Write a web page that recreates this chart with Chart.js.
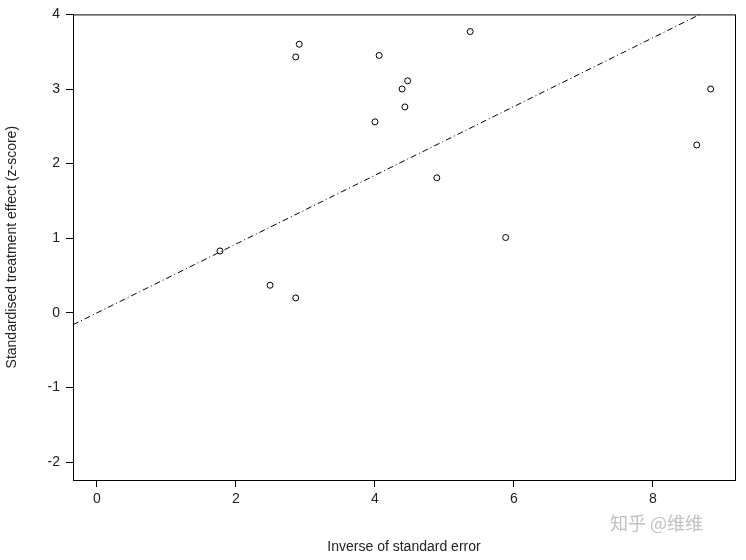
<!DOCTYPE html>
<html><head><meta charset="utf-8">
<script src="https://cdn.jsdelivr.net/npm/chart.js@4"></script>
<style>html,body{margin:0;padding:0;background:#fff}#w{width:746px;height:560px}</style>
</head><body><div id="w"><canvas id="c"></canvas></div>
<script>
const precision = [1.77,2.49,2.86,2.86,2.91,4.00,4.06,4.39,4.43,4.47,4.89,5.37,5.88,8.63,8.83];
const zscore    = [0.83,0.37,0.20,3.43,3.60,2.56,3.45,3.00,2.76,3.11,1.81,3.77,1.01,2.25,3.00];
const lineX = [-0.345, 9.18];
const slope = 0.461;
const xTicks = [0,2,4,6,8];
const yTicks = [-2,-1,0,1,2,3,4];
const pts = precision.map((x,i)=>({x, y: zscore[i]}));
const linePts = lineX.map(x=>({x, y: slope*x}));
const font = {family:'Liberation Sans, Arial, sans-serif', size:14};
const boxPlugin = {id:'box', afterDraw(ch){const a=ch.chartArea,c=ch.ctx;c.save();c.strokeStyle='#000';c.lineWidth=1;c.strokeRect(a.left+0.5,a.top+0.5,a.right-a.left,a.bottom-a.top);
 c.fillStyle='rgba(150,150,150,0.6)';c.font='18px "Noto Sans CJK SC"';c.fillText('知乎 @维维',610,530);c.restore();}};
new Chart(document.getElementById('c'),{
 type:'scatter',
 data:{datasets:[
  {data:pts, pointStyle:'circle', pointRadius:3, borderColor:'#000', borderWidth:1, backgroundColor:'rgba(0,0,0,0)'},
  {type:'line', data:linePts, borderColor:'#000', borderWidth:1, borderDash:[6,3,1,3], pointRadius:0, fill:false}
 ]},
 options:{responsive:true, maintainAspectRatio:false, animation:false,
  layout:{padding:{top:11,right:11,left:0,bottom:0}},
  plugins:{legend:{display:false},tooltip:{enabled:false}},
  scales:{
   x:{type:'linear',min:-0.345,max:9.18,
    afterBuildTicks(s){s.ticks=xTicks.map(v=>({value:v}));},
    afterFit(s){s.height=80;},
    grid:{drawOnChartArea:false,tickLength:7,color:'#000'},border:{display:true,color:'#000'},
    ticks:{color:'#222',font,padding:4},
    title:{display:true,text:'Inverse of standard error',color:'#222',font,padding:{top:18}}},
   y:{type:'linear',min:-2.24,max:4.0,
    afterBuildTicks(s){s.ticks=yTicks.map(v=>({value:v}));},
    afterFit(s){s.width=73;},
    grid:{drawOnChartArea:false,tickLength:7,color:'#000'},border:{display:true,color:'#000'},
    ticks:{color:'#222',font,padding:6},
    title:{display:true,text:'Standardised treatment effect (z-score)',color:'#222',font,padding:{bottom:8}}}
  }},
 plugins:[boxPlugin]
});
</script></body></html>
